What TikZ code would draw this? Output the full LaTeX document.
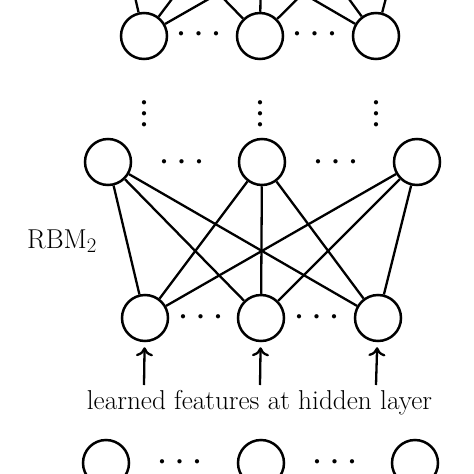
\documentclass[tikz,border=0pt]{standalone}
\usetikzlibrary{arrows.meta}
\begin{document}
\begin{tikzpicture}[x=1pt,y=-1pt,
  unit/.style={circle,draw,line width=2.5pt,minimum size=46pt,inner sep=0pt},
  edge/.style={line width=2.3pt},
  uparrow/.style={line width=2.3pt,-{To[length=9pt,width=17pt,line width=2.3pt]},shorten >=5pt},
  dotmark/.style={inner sep=0pt,font=\fontsize{11}{13}\selectfont},
  lab/.style={inner sep=0pt,font=\fontsize{27.3}{32}\selectfont}]
\useasboundingbox (0,0) rectangle (474,474);
\begin{scope}
\clip (0,0) rectangle (474,474);
% off-page upper row
\node[unit] (U1) at (108,-120) {};
\node[unit] (U2) at (262,-120) {};
\node[unit] (U3) at (417,-120) {};
% row A
\node[unit] (A1) at (144,36) {};
\node[unit] (A2) at (260,36) {};
\node[unit] (A3) at (376,36) {};
% row B
\node[unit] (B1) at (108,162) {};
\node[unit] (B2) at (262,162) {};
\node[unit] (B3) at (417,162) {};
% row C
\node[unit] (C1) at (145,318) {};
\node[unit] (C2) at (261,318) {};
\node[unit] (C3) at (378,318) {};
% row D
\node[unit] (D1) at (106,463) {};
\node[unit] (D2) at (261,463) {};
\node[unit] (D3) at (415,463) {};
\foreach \u in {U1,U2,U3}{\foreach \a in {A1,A2,A3}{\draw[edge] (\u) -- (\a);}}
\foreach \b in {B1,B2,B3}{\foreach \c in {C1,C2,C3}{\draw[edge] (\b) -- (\c);}}
% horizontal dots
\foreach \y/\xa/\xb [count=\r] in {34/181/297, 162/164/318, 317/183/299, 462/162/317}{
  \foreach \k in {0,1,2}{
    \node[dotmark] (h\r a\k) at (\xa+17.5*\k,\y) {$\bullet$};
    \node[dotmark] (h\r b\k) at (\xb+17.5*\k,\y) {$\bullet$};
  }}
% vertical dots
\foreach \x [count=\i] in {144,260,376}{
  \foreach \yy [count=\k] in {103,114,125}{
    \node[dotmark] (v\i\k) at (\x,\yy) {$\bullet$};
  }}
% arrows
\coordinate (a1) at (144,385);
\coordinate (a2) at (260,385);
\coordinate (a3) at (376,385);
\draw[uparrow] (a1) -- (C1);
\draw[uparrow] (a2) -- (C2);
\draw[uparrow] (a3) -- (C3);
\node[lab,anchor=base] (feat) at (259.5,409) {learned features at hidden layer};
\node[lab,anchor=base west] (rbm) at (27,248) {RBM$_2$};
\end{scope}
\end{tikzpicture}
\end{document}
